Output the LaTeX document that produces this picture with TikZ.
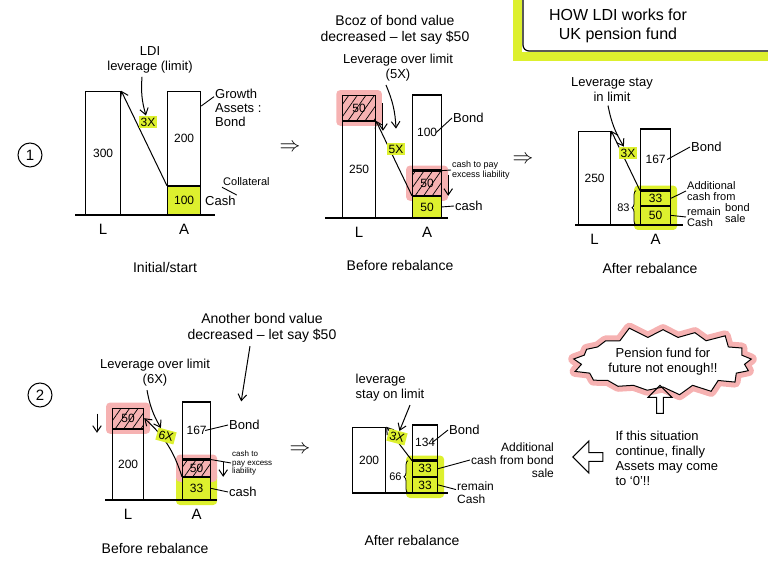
\documentclass[tikz,border=0pt]{standalone}
\usepackage{fontspec}
\setmainfont{Liberation Sans}
\usetikzlibrary{arrows.meta,positioning,calc,decorations.pathreplacing,patterns.meta,shapes.symbols,shapes.arrows,backgrounds}
\definecolor{hly}{RGB}{221,240,46}
\definecolor{hlr}{RGB}{246,178,178}
\newcommand{\fsz}[2]{\fontsize{#1}{#2}\selectfont}
\tikzset{bar/.style={draw,line width=1.2pt,inner sep=0pt,font=\fsz{12}{13}},
  wh/.style 2 args={minimum width=#1pt,minimum height=#2pt},
  cashbox/.style={bar,fill=hly},
  hatchbox/.style={bar,pattern={Lines[angle=55,distance=7pt,line width=0.7pt]}},
  tag/.style={fill=hly,inner sep=2pt,font=\fsz{12}{13}},
  note/.style={align=center,font=\fsz{13}{15}},
  lbl/.style={font=\fsz{13}{14},inner sep=1pt},
  tinytxt/.style={align=left,font=\fsz{8}{8.5},inner sep=1pt},
  captxt/.style={font=\fsz{14}{15}},
  bigl/.style={font=\fsz{15}{15}},
  ground/.style={line width=1.2pt},
  lead/.style={line width=0.9pt},
  num/.style={draw,circle,line width=1pt,minimum size=24pt,font=\fsz{15}{15}},
  imply/.style={font=\fsz{20}{20}},
  arr/.style={-{Straight Barb[length=2.2mm,width=3mm]},line width=1pt},
  hollow/.style={single arrow,draw,line width=1pt,minimum height=28pt,minimum width=24pt,single arrow head extend=4pt,inner sep=1pt},
  burst/.style={starburst,starburst points=17,starburst point height=12pt,random starburst=5,draw,fill=white,line width=1pt,
    preaction={draw=hlr,line width=11pt,line join=round},minimum width=180pt,minimum height=74pt,align=center,font=\fsz{13}{15}},
  brc/.style={decorate,decoration={brace,amplitude=4pt},line width=0.8pt}}

\begin{document}
\begin{tikzpicture}[x=1pt,y=-1pt]
\useasboundingbox (0,0) rectangle (768,569);
% title
\draw[hly,line width=9pt] (517,0) -- (517,57) -- (768,57);
\draw[line width=1.2pt,rounded corners=6pt] (523,0) -- (523,51) -- (768,51);
\node[note,font=\fsz{16}{19}] (ttl) at (618,26) {HOW LDI works for\\UK pension fund};

% ---- 1: initial
\node[num] (r1) at (30,155) {1};
\draw[ground] (75,215) -- (215,215);
\node[bar,wh={35}{123},anchor=south west] (l1) at (85,215) {300};
\node[cashbox,wh={33}{28},anchor=south west] (a1c) at (167,215) {100};
\node[bar,wh={33}{94},anchor=south] (a1b) at (a1c.north) {200};
\draw[arr] (a1c.north west) -- (l1.north east);
\node[tag] (x1) at (148,122) {3X};
\node[note] (n1) at (150,60) {LDI\\leverage (limit)};
\draw[arr] ([xshift=-8pt]n1.south) to[bend right=10] (x1);
\node[lbl,align=left,anchor=west] (g1) at (214,108) {Growth\\Assets :\\Bond};
\draw[lead] (a1b.62) -- (g1.155);
\node[lbl,anchor=west] (c1) at (204,201) {Cash};
\node[lbl,anchor=west,font=\fsz{11}{12}] (k1) at (222,182) {Collateral};
\draw[lead] (c1.north east) -- (k1.south west);
\node[bigl,below=6pt of l1] (ll1) {L};
\node[bigl,below=6pt of a1c] (la1) {A};
\node[captxt] (t1) at (165,267) {Initial/start};
\node[imply] (p1) at (290,148) {$\Rightarrow$};

% ---- 1: before rebalance
\node[note,font=\fsz{14}{16}] (n2a) at (395,30) {Bcoz of bond value\\decreased -- let say \$50};
\draw[ground] (325,218) -- (448,218);
\node[bar,wh={33}{96},anchor=south west] (l2) at (342,218) {250};
\node[hatchbox,wh={33}{25},anchor=south] (l2h) at (l2.north) {50};
\node[cashbox,wh={29}{21},anchor=south west] (a2c) at (412,218) {50};
\node[hatchbox,wh={29}{24},anchor=south] (a2h) at (a2c.north) {50};
\node[bar,wh={29}{75},anchor=south] (a2b) at (a2h.north) {100};
\draw[arr] (a2h.south west) -- (l2h.south east);
\node[tag] (x2) at (396,149) {5X};
\node[note] (n2b) at (398,68) {Leverage over limit\\(5X)};
\draw[arr] ([xshift=-12pt]n2b.south) to[bend left=10] ([yshift=14pt]x2.north);
\draw[arr] ([xshift=7pt,yshift=-8pt]l2h.north east) -- ([xshift=7pt,yshift=-10pt]l2h.south east);
\node[lbl,anchor=west] (b2) at (452,118) {Bond};
\draw[lead] ([xshift=-6pt]a2b.east) -- (b2.west);
\node[tinytxt,font=\fsz{9}{9.5},anchor=west] (e2) at (451,170) {cash to pay\\excess liability};
\draw[lead] (a2h.north east) -- (e2.west);
\draw[arr] ([xshift=6pt,yshift=-4pt]a2h.north east) -- ([xshift=6pt]a2h.south east);
\node[lbl,anchor=west] (c2) at (454,206) {cash};
\draw[lead] (a2c.east) -- (c2.west);
\node[bigl,below=6pt of l2] (ll2) {L};
\node[bigl,below=6pt of a2c] (la2) {A};
\node[captxt] (t2) at (400,265) {Before rebalance};
\node[imply] (p2) at (523,160) {$\Rightarrow$};

% ---- 1: after rebalance
\node[note] (n3) at (612,90) {Leverage stay\\in limit};
\draw[ground] (575,225) -- (683,225);
\node[bar,wh={32}{93},anchor=south west] (l3) at (578,225) {250};
\node[cashbox,wh={30}{18},anchor=south west] (a3c) at (640,225) {50};
\node[cashbox,wh={30}{14},anchor=south] (a3m) at (a3c.north) {33};
\node[bar,wh={30}{61},anchor=south] (a3b) at (a3m.north) {167};
\draw[arr] (a3m.north west) -- (l3.north east);
\node[tag] (x3) at (628,153) {3X};
\draw[arr] ([xshift=-4pt]n3.south) to[bend right=10] (x3);
\draw[brc] ([xshift=-4pt]a3c.south west) -- ([xshift=-4pt]a3m.north west) node[midway,left=5pt,lbl,font=\fsz{11}{12}] (s3) {83};
\node[lbl,anchor=west] (b3) at (690,147) {Bond};
\draw[lead] ([xshift=-4pt]a3b.east) -- (b3.west);
\node[lbl,align=left,anchor=west,font=\fsz{11}{11.5}] (d3) at (686,191) {Additional\\cash from};
\draw[lead] (a3m.east) -- (d3.west);
\node[lbl,align=left,anchor=north west,font=\fsz{11}{11.5}] (m3) at (686,206) {remain\\Cash};
\draw[lead] (a3c.east) -- (m3.west);
\node[lbl,align=left,anchor=north west,font=\fsz{11}{11.5}] (q3) at (724,202) {bond\\sale};
\node[bigl,below=6pt of l3] (ll3) {L};
\node[bigl,below=6pt of a3c] (la3) {A};
\node[captxt] (t3) at (650,268) {After rebalance};

% ---- 2: before rebalance
\node[num] (r2) at (40,395) {2};
\node[note] (n4b) at (155,373) {Leverage over limit\\(6X)};
\node[note,font=\fsz{14}{16}] (n4a) at (262,328) {Another bond value\\decreased -- let say \$50};
\draw[ground] (105,500) -- (217,500);
\node[bar,wh={31}{70},anchor=south west] (l4) at (112,500) {200};
\node[hatchbox,wh={31}{20},anchor=south] (l4h) at (l4.north) {50};
\node[cashbox,wh={28}{22},anchor=south west] (a4c) at (182,500) {33};
\node[hatchbox,wh={28}{16},anchor=south] (a4h) at (a4c.north) {50};
\node[bar,wh={28}{57},anchor=south] (a4b) at (a4h.north) {167};
\draw[arr] (a4h.south west) to[bend right=15] (l4h.east);
\node[tag,rotate=-15] (x4) at (166,436) {6X};
\draw[arr] ([xshift=-8pt]n4b.south) to[bend right=10] (x4);
\draw[arr] ([xshift=-12pt]n4a.south) -- ([xshift=30pt]a4b.north east);
\draw[arr] ([xshift=-15pt,yshift=-6pt]l4h.north west) -- ([xshift=-15pt,yshift=-4pt]l4h.south west);
\node[lbl,anchor=west] (b4) at (228,425) {Bond};
\draw[lead] ([xshift=-6pt]a4b.east) -- (b4.west);
\node[tinytxt,anchor=west] (e4) at (231,463) {cash to\\pay excess\\liability};
\draw[lead] (a4h.north east) -- (e4.west);
\draw[arr] ([xshift=12pt,yshift=-2pt]a4h.north east) -- ([xshift=12pt]a4h.south east);
\node[lbl,anchor=west] (c4) at (228,492) {cash};
\draw[lead] (a4c.east) -- (c4.west);
\node[bigl,below=6pt of l4] (ll4) {L};
\node[bigl,below=6pt of a4c] (la4) {A};
\node[captxt] (t4) at (155,548) {Before rebalance};
\node[imply] (p4) at (300,450) {$\Rightarrow$};

% ---- 2: after rebalance
\node[note,align=left] (n5) at (390,388) {leverage\\stay on limit};
\draw[ground] (352,493) -- (448,493);
\node[bar,wh={33}{65},anchor=south west] (l5) at (352,493) {200};
\node[cashbox,wh={25}{15},anchor=south west] (a5c) at (412,493) {33};
\node[cashbox,wh={25}{15},anchor=south] (a5m) at (a5c.north) {33};
\node[bar,wh={25}{35},anchor=south] (a5b) at (a5m.north) {134};
\draw[arr] (a5m.north west) -- (l5.north east);
\node[tag,rotate=-15] (x5) at (397,437) {3X};
\draw[arr] ([xshift=20pt]n5.south) -- (x5);
\draw[brc] ([xshift=-4pt]a5c.south west) -- ([xshift=-4pt]a5m.north west) node[midway,left=5pt,lbl,font=\fsz{11}{12}] (s5) {66};
\node[lbl,anchor=west] (b5) at (448,430) {Bond};
\draw[lead] ([xshift=-6pt]a5b.east) -- (b5.west);
\node[lbl,align=right,anchor=west,font=\fsz{12}{13}] (d5) at (470,460) {Additional\\cash from bond\\sale};
\draw[lead] (a5m.east) -- (d5.west);
\node[lbl,align=left,anchor=west,font=\fsz{12}{13}] (m5) at (456,493) {remain\\Cash};
\draw[lead] (a5c.east) -- (m5.170);
\node[captxt] (t5) at (412,540) {After rebalance};

% ---- outcome
\node[burst] (bst) at (663,362) {Pension fund for\\future not enough!!};
\node[hollow,shape border rotate=90] (ua) at (660,401) {};
\node[note,align=left,anchor=north west] (fin) at (612,428) {If this situation\\continue, finally\\Assets may come\\to `0'!!};
\node[hollow,shape border rotate=180,minimum width=32pt,minimum height=30pt] (la) at (590,457) {};

% highlighter marks
\begin{scope}[on background layer]
\foreach \lo/\hi/\c in {a3c/a3m/hly,a5c/a5m/hly,a4c/a4c/hly,l2h/l2h/hlr,a2h/a2h/hlr,l4h/l4h/hlr,a4h/a4h/hlr}
  \fill[\c,rounded corners=4pt] ([shift={(-6pt,-5pt)}]\lo.south west) rectangle ([shift={(6pt,5pt)}]\hi.north east);
\end{scope}
\end{tikzpicture}
\end{document}
